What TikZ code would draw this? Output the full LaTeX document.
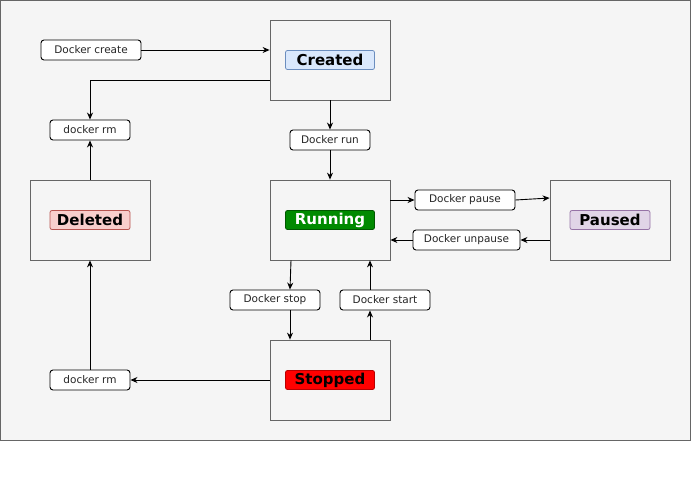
\documentclass[tikz,border=0pt]{standalone}
\usepackage{fontspec}
\setmainfont{DejaVu Sans}
\usetikzlibrary{arrows.meta}
\definecolor{bg}{HTML}{F5F5F5}
\definecolor{cf}{HTML}{DAE8FC}\definecolor{cd}{HTML}{6C8EBF}
\definecolor{rf}{HTML}{008A00}\definecolor{rd}{HTML}{005700}
\definecolor{pf}{HTML}{E1D5E7}\definecolor{pd}{HTML}{9673A6}
\definecolor{df}{HTML}{F8CECC}\definecolor{dd}{HTML}{B85450}
\definecolor{sf}{HTML}{FF0000}\definecolor{sd}{HTML}{B80000}
\begin{document}
\begin{tikzpicture}[x=1pt,y=-1pt,
 box/.style={draw=black!60,fill=bg,minimum width=120pt,minimum height=80pt,inner sep=0pt,line width=0.8pt},
 tag/.style={rounded corners=2pt,minimum width=89pt,minimum height=19pt,inner sep=0pt,line width=0.8pt,font=\fontsize{15}{17}\selectfont\bfseries},
 lbl/.style={draw=black,fill=white,rounded corners=3pt,minimum height=20pt,inner sep=0pt,line width=0.9pt,font=\fontsize{10.5}{12}\selectfont,text=black!85},
 arr/.style={-{Stealth[length=7pt,width=6pt]},line width=0.9pt}]
\useasboundingbox (0,0) rectangle (691,479);
\draw[draw=black!60,fill=bg,line width=0.8pt] (0.5,0.5) rectangle (690.5,440);
\node[box] (created) at (330,60) {};
\node[box] (running) at (330,220) {};
\node[box] (paused) at (610,220) {};
\node[box] (deleted) at (90,220) {};
\node[box] (stopped) at (330,380) {};
\node[tag, draw=cd, fill=cf] (tc) at (330,60) {Created};
\node[tag, draw=rd, fill=rf, text=white] (tr) at (330,220) {Running};
\node[tag, draw=pd, fill=pf, minimum width=80pt] (tp) at (610,220) {Paused};
\node[tag, draw=dd, fill=df, minimum width=80pt] (td) at (90,220) {Deleted};
\node[tag, draw=sd, fill=sf] (ts) at (330,380) {Stopped};
\node[lbl,minimum width=100pt] (create) at (91,50) {Docker create};
\node[lbl,minimum width=80pt] (rm1) at (90,130) {docker rm};
\node[lbl,minimum width=80pt] (run) at (330,140) {Docker run};
\node[lbl,minimum width=100pt] (pause) at (465,200) {Docker pause};
\node[lbl,minimum width=107pt] (unpause) at (466.5,240) {Docker unpause};
\node[lbl,minimum width=90pt] (stop) at (275,300) {Docker stop};
\node[lbl,minimum width=90pt] (start) at (385,300) {Docker start};
\node[lbl,minimum width=80pt] (rm2) at (90,380) {docker rm};
\draw[arr] (create.east) -- (created.west |- create.east);
\draw[arr] (created.west |- 0,80) -| (rm1.north);
\draw[arr] (deleted.north) -- (rm1.south);
\draw[arr] (rm2.north) -- (deleted.south);
\draw[arr] (stopped.west) -- (rm2.east);
\draw[arr] (created.south) -- (run.north);
\draw[arr] (run.south) -- (running.north);
\draw[arr] (running.east |- 0,200) -- (pause.west);
\draw[arr] (pause.east) -- (paused.west |- 0,198);
\draw[arr] (paused.west |- unpause.east) -- (unpause.east);
\draw[arr] (unpause.west) -- (running.east |- unpause.west);
\draw[arr] (running.south -| 291,0) -- (stop.north -| 290,0);
\draw[arr] (stop.south -| 290,0) -- (stopped.north -| 290,0);
\draw[arr] (stopped.north -| 370,0) -- (start.south -| 370,0);
\draw[arr] (start.north -| 370,0) -- (running.south -| 370,0);
\end{tikzpicture}
\end{document}
